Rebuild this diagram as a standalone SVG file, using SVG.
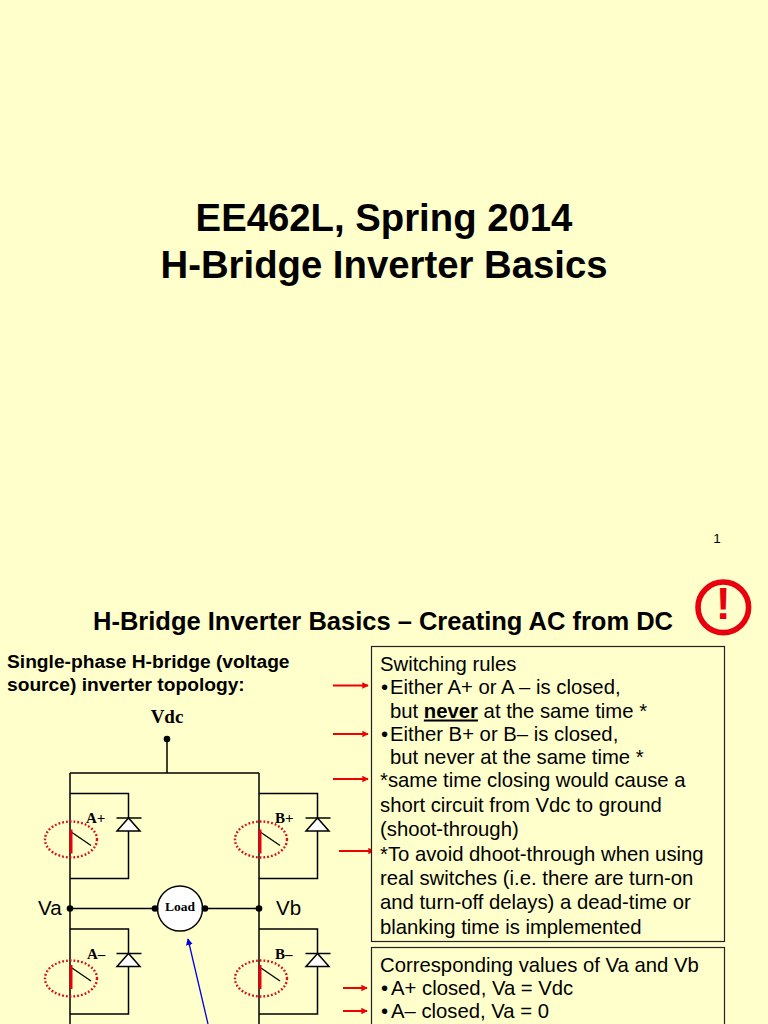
<svg xmlns="http://www.w3.org/2000/svg" width="768" height="1024" viewBox="0 0 768 1024">
<style>
text{font-family:"Liberation Sans",Arial,sans-serif;fill:#000}
.t{font-size:38.3px;font-weight:bold;text-anchor:middle}
.h{font-size:25.5px;font-weight:bold}
.s{font-size:19.2px;font-weight:bold}
.b{font-size:20.3px}
.v{font-size:20.5px}
.se{font-family:"Liberation Serif",serif;font-weight:bold}
.c{font-size:15px}
.w{fill:none;stroke:#000;stroke-width:1.5}
.d{fill:#000}
.sw{stroke:#000;stroke-width:1.3;fill:none}
.rb{stroke:#e8000f;stroke-width:3;fill:none}
.el{fill:none;stroke:#d8101c;stroke-width:2.4;stroke-dasharray:1.8 2}
.box{fill:#ffffcc;stroke:#222;stroke-width:1.2}
.ar{stroke:#f00000;stroke-width:2;fill:none;marker-end:url(#ra)}
</style>
<defs>
<marker id="ra" viewBox="0 0 8 8" refX="7" refY="4" markerWidth="6.500" markerHeight="6.500" markerUnits="userSpaceOnUse" orient="auto"><path d="M0 0L8 4L0 8Z" fill="#f00000"/></marker>
<marker id="ba" viewBox="0 0 8 8" refX="7" refY="4" markerWidth="7" markerHeight="7" markerUnits="userSpaceOnUse" orient="auto"><path d="M0 0L8 4L0 8Z" fill="#0000e0"/></marker>
<g id="leg">
<path class="w" d="M0 0H58.500V85H0"/>
<path d="M46.500 24.500H71.500" class="w"/>
<path d="M58.500 24.500L47 37.500H70Z" fill="#fff" stroke="#000" stroke-width="1.500"/>
<path class="sw" d="M2 39L21 52"/>
<path class="rb" d="M1 36V60"/>
</g>
</defs>
<rect width="768" height="1024" fill="#ffffcc"/>
<g id="title">
<text class="t" x="384" y="231">EE462L, Spring 2014</text>
<text class="t" x="384" y="278">H-Bridge Inverter Basics</text>
</g>
<text id="page" x="717" y="543" font-size="13.500" text-anchor="middle">1</text>
<text id="heading" class="h" x="93" y="630">H-Bridge Inverter Basics – Creating AC from DC</text>
<g id="warning">
<circle cx="723.300" cy="607.300" r="25.300" fill="none" stroke="#e8000f" stroke-width="5.600"/>
<text x="723.300" y="619" font-size="45" font-weight="bold" text-anchor="middle" style="fill:#e8000f">!</text>
</g>
<g id="topology-label">
<text class="s" x="7" y="668">Single-phase H-bridge (voltage</text>
<text class="s" x="7" y="691">source) inverter topology:</text>
</g>
<g id="connectors">
<path class="w" d="M167 739V773M70 773H259M70 773V1024M259 773V1024M70 908.500H155M205 908.500H259"/>
<path class="ar" d="M333 685.500H368"/>
<path class="ar" d="M333 734H368"/>
<path class="ar" d="M333 779H368"/>
<path class="ar" d="M339 851H374"/>
<path class="ar" d="M343 988H367"/>
<path class="ar" d="M343 1011H367"/>
<path d="M208 1024L188 939" stroke="#0000e0" stroke-width="1.300" fill="none" marker-end="url(#ba)"/>
</g>
<g id="vdc"><text class="se" x="167" y="723" font-size="19" text-anchor="middle">Vdc</text><circle class="d" cx="167" cy="739" r="3.300"/></g>
<g id="a-plus"><use href="#leg" x="70" y="793.500"/><ellipse class="el" cx="71" cy="839.500" rx="26" ry="18"/><text class="se c" x="86" y="823">A+</text></g>
<g id="b-plus"><use href="#leg" x="259" y="793.500"/><ellipse class="el" cx="261" cy="839.500" rx="26" ry="18"/><text class="se c" x="275" y="823">B+</text></g>
<g id="a-minus"><use href="#leg" x="70" y="929"/><ellipse class="el" cx="71" cy="978.500" rx="26" ry="18"/><text class="se c" x="87" y="959">A–</text></g>
<g id="b-minus"><use href="#leg" x="259" y="929"/><ellipse class="el" cx="261" cy="978.500" rx="26" ry="18"/><text class="se c" x="275" y="959">B–</text></g>
<g id="va"><text class="v" x="38" y="915">Va</text><circle class="d" cx="70" cy="908.500" r="3.300"/></g>
<g id="vb"><text class="v" x="276" y="915">Vb</text><circle class="d" cx="259" cy="908.500" r="3.300"/></g>
<g id="load">
<circle cx="180" cy="908.500" r="22.500" fill="#fff" stroke="#000" stroke-width="1.500"/>
<circle class="d" cx="155" cy="908.500" r="3.300"/><circle class="d" cx="205" cy="908.500" r="3.300"/>
<text class="se" x="180" y="911" font-size="13.500" text-anchor="middle">Load</text>
</g>
<g id="rules">
<rect class="box" x="371.500" y="646.500" width="353" height="295"/>
<text class="b" x="380" y="671">Switching rules</text>
<text class="b" x="381" y="694">•</text><text class="b" x="390" y="694">Either A+ or A – is closed,</text>
<text class="b" x="390" y="717.500">but <tspan font-weight="bold" text-decoration="underline">never</tspan> at the same time *</text>
<text class="b" x="381" y="741">•</text><text class="b" x="390" y="741">Either B+ or B– is closed,</text>
<text class="b" x="390" y="764">but never at the same time *</text>
<text class="b" x="380" y="787">*same time closing would cause a</text>
<text class="b" x="380" y="812">short circuit from Vdc to ground</text>
<text class="b" x="380" y="836">(shoot-through)</text>
<text class="b" x="380" y="861">*To avoid dhoot-through when using</text>
<text class="b" x="380" y="885">real switches (i.e. there are turn-on</text>
<text class="b" x="380" y="909">and turn-off delays) a dead-time or</text>
<text class="b" x="380" y="934">blanking time is implemented</text>
</g>
<g id="values">
<rect class="box" x="371.500" y="947.500" width="353" height="90"/>
<text class="b" x="380" y="972">Corresponding values of Va and Vb</text>
<text class="b" x="381" y="995">•</text><text class="b" x="391" y="995">A+ closed, Va = Vdc</text>
<text class="b" x="381" y="1018">•</text><text class="b" x="391" y="1018">A– closed, Va = 0</text>
</g>
</svg>
